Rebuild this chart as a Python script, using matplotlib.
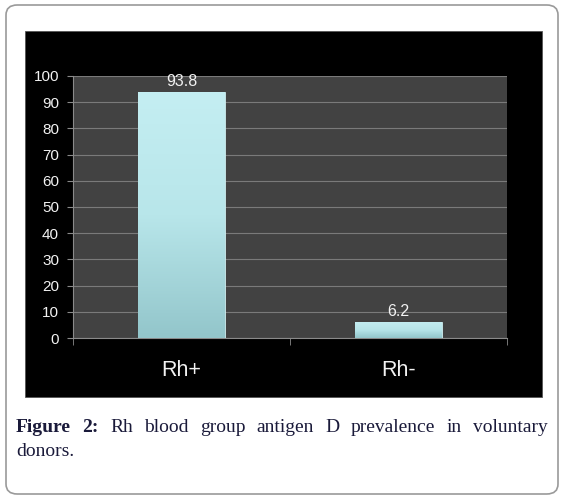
import matplotlib
matplotlib.use("Agg")
import matplotlib.pyplot as plt
from matplotlib.patches import Rectangle, FancyBboxPatch
import numpy as np

categories = ["Rh+", "Rh-"]
values = [93.8, 6.2]
value_labels = ["93.8", "6.2"]
y_ticks = [0, 10, 20, 30, 40, 50, 60, 70, 80, 90, 100]
caption_bold = "Figure 2:"
caption_rest = "Rh blood group antigen D prevalence in voluntary"
caption_line2 = "donors."

W, H = 562, 500
fig = plt.figure(figsize=(W / 100, H / 100), dpi=100)
fig.patch.set_facecolor("white")

# outer rounded frame
frame = FancyBboxPatch((6 / W, 6 / H), 552 / W, 489 / H,
                       boxstyle="round,pad=0,rounding_size=0.02",
                       transform=fig.transFigure, facecolor="white",
                       edgecolor="#9a9a9a", linewidth=1.2, zorder=-3)
fig.patches.append(frame)

# black chart panel
panel = Rectangle((25 / W, (H - 397) / H), 517 / W, 366 / H,
                  transform=fig.transFigure, facecolor="black",
                  edgecolor="#555555", linewidth=0.6, zorder=-2)
fig.patches.append(panel)

ax = fig.add_axes([73 / W, (H - 338) / H, 434 / W, 262 / H])
ax.set_facecolor("#424242")
x = np.arange(len(categories))
bars = ax.bar(x, values, width=0.4, color="#abdde2", edgecolor="#cfeef0",
              linewidth=0.6, zorder=3)

# soft vertical gradient on the bars
grad = np.linspace(0, 1, 100).reshape(-1, 1)
cmap = matplotlib.colors.LinearSegmentedColormap.from_list(
    "bar", ["#93c6cb", "#b8e6ea", "#c4eef2"])
for b in bars:
    x0, y0 = b.get_x(), b.get_y()
    im = ax.imshow(grad, cmap=cmap, origin="lower", aspect="auto",
                   extent=(x0, x0 + b.get_width(), y0, y0 + b.get_height()),
                   zorder=3.5)
    im.set_clip_path(b)

for xi, v, lab in zip(x, values, value_labels):
    ax.text(xi, v + 1.2, lab, ha="center", va="bottom", color="#f2f2f2",
            fontsize=11.5, family="Liberation Sans", zorder=5)

ax.set_xlim(-0.5, 1.5)
ax.set_ylim(0, 100)
ax.set_yticks(y_ticks)
ax.set_yticklabels([str(t) for t in y_ticks], color="#f2f2f2", fontsize=11,
                   family="Liberation Sans")
ax.yaxis.grid(True, color="#7a7a7a", linewidth=0.8, zorder=0)
ax.set_axisbelow(True)
ax.tick_params(axis="y", length=4, color="#8a8a8a", pad=6)

ax.set_xticks(x)
ax.set_xticklabels(categories, color="#f2f2f2", fontsize=15.5,
                   family="Liberation Sans")
ax.tick_params(axis="x", length=0, pad=16)
ax.set_xticks([-0.5, 0.5, 1.5], minor=True)
ax.tick_params(axis="x", which="minor", length=5, color="#8a8a8a")

for s in ["top", "right"]:
    ax.spines[s].set_visible(False)
for s in ["left", "bottom"]:
    ax.spines[s].set_color("#8a8a8a")
    ax.spines[s].set_linewidth(0.8)

# justified caption
fig.canvas.draw()
r = fig.canvas.get_renderer()
cap_color = "#1a1a3a"
words = [(caption_bold.split()[0], "bold"), (caption_bold.split()[1], "bold")] + \
        [(w, "normal") for w in caption_rest.split()]
xl, xr = 16, 548
y1 = (H - 428) / H
texts = []
total = 0
for w, wt in words:
    t = fig.text(0, y1, w, fontsize=14, family="Liberation Serif",
                 fontweight=wt, color=cap_color, va="center", ha="left")
    bb = t.get_window_extent(r)
    texts.append((t, bb.width))
    total += bb.width
gap = (xr - xl - total) / (len(words) - 1)
pos = xl
for t, wdt in texts:
    t.set_x(pos / W)
    pos += wdt + gap
fig.text(xl / W, (H - 452) / H, caption_line2, fontsize=14,
         family="Liberation Serif", color=cap_color, va="center", ha="left")

fig.savefig("out.png", dpi=100, facecolor="white")
